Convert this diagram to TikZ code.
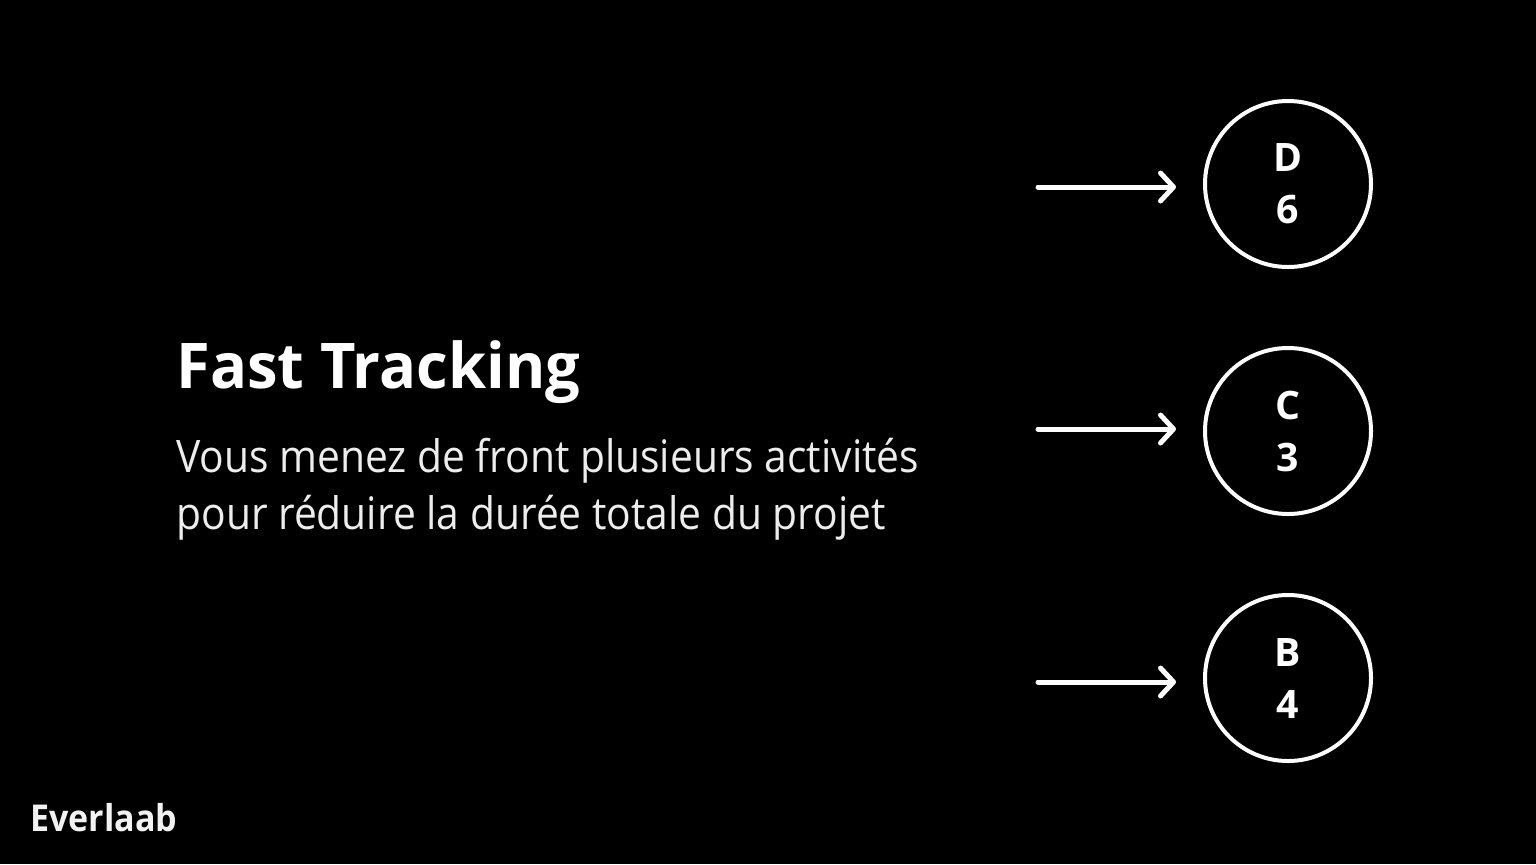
\documentclass[tikz,border=0pt]{standalone}
\usepackage{fontspec}
\setmainfont{Open Sans}
\newfontfamily\bodyfont[FakeStretch=0.91]{Open Sans}
\newfontfamily\titlefont[FakeStretch=0.975]{Open Sans}
\newfontfamily\brandfont[FakeStretch=0.92]{Open Sans}
\usetikzlibrary{arrows.meta}
\begin{document}
\begin{tikzpicture}[x=0.5pt,y=-0.5pt,
  act/.style={circle,draw=white,line width=2pt,minimum size=83pt,inner sep=0pt,
    text=white,align=center,font=\fontsize{19.6}{26}\selectfont\bfseries},
  arr/.style={draw=white,line width=2.5pt,line cap=round,
    -{Straight Barb[round,length=6.5pt,width=14pt]},shorten >=13.5pt},
  title/.style={anchor=base west,inner sep=0pt,text=white,font=\titlefont\fontsize{31.5}{38}\selectfont\bfseries},
  body/.style={anchor=base west,inner sep=0pt,text=white!93!black,font=\bodyfont\fontsize{22.4}{28.5}\selectfont},
  brand/.style={anchor=base west,inner sep=0pt,text=white!95!black,font=\brandfont\fontsize{18.5}{22}\selectfont\bfseries}]
\fill[black] (0,0) rectangle (1536,864);
\useasboundingbox (0,0) rectangle (1536,864);
\node[title] (t) at (176,388) {Fast Tracking};
\node[body] (l1) at (176,472) {Vous menez de front plusieurs activités};
\node[body] (l2) at (176,529) {pour réduire la durée totale du projet};
\node[brand] (b) at (30,831) {Everlaab};
\node[act] (d) at (1288,184) {D\\6};
\node[act] (c) at (1288,431) {C\\3};
\node[act] (bb) at (1288,678) {B\\4};
\coordinate (sd) at (1038,187);
\coordinate (sc) at (1038,429);
\coordinate (sb) at (1038,682);
\draw[arr] (sd) -- (sd -| d.west);
\draw[arr] (sc) -- (sc -| c.west);
\draw[arr] (sb) -- (sb -| bb.west);
\end{tikzpicture}
\end{document}
